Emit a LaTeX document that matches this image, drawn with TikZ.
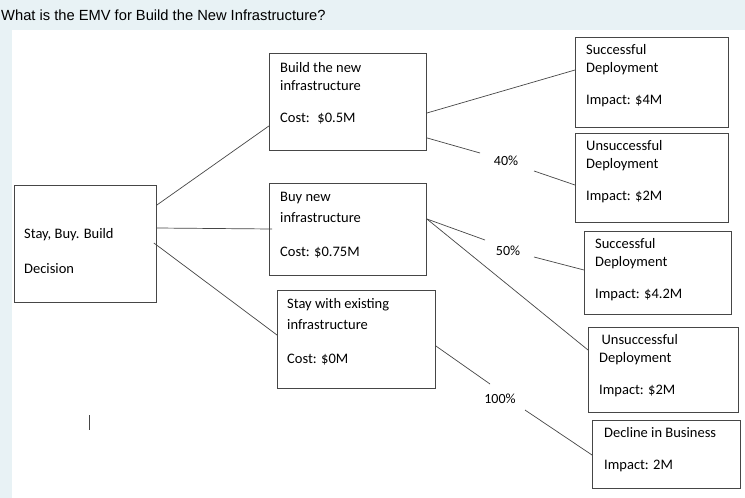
\documentclass[tikz,border=0pt]{standalone}
\usepackage{fontspec}
\setmainfont{Carlito}
\newfontfamily\titlefont{Liberation Sans}
\usepackage{xcolor}
\definecolor{pale}{RGB}{232, 242, 245}
\definecolor{edge}{RGB}{70, 70, 70}
\usetikzlibrary{positioning, calc}

\tikzset{
  box/.style = {draw=edge, line width=0.9pt, rectangle, inner sep=0pt},
  txt/.style = {anchor=north west, align=left, inner sep=0pt, font=\fontsize{14.5}{18}\selectfont},
  pct/.style = {inner sep=0pt, font=\fontsize{14}{16}\selectfont},
  branch/.style = {draw=edge, line width=0.7pt}
}

\begin{document}
\begin{tikzpicture}[x=1pt, y=-1pt]
	\useasboundingbox (0,0) rectangle (745,498);
	\fill [pale] (0,0) rectangle (745,498);
	\fill [white] (12,30) rectangle (745,498);
	\node [anchor=west, inner sep=0pt, font=\titlefont\fontsize{14.7}{16}\selectfont] (title) at (1,15) {What is the EMV for Build the New Infrastructure?};
	
	% decision and options
	\node [box, minimum width=142, minimum height=117, anchor=north west] (dec) at (14,185) {};
	\node [box, minimum width=157, minimum height=97, anchor=north west] (build) at (269,53) {};
	\node [box, minimum width=157, minimum height=92, anchor=north west] (buy) at (269,183) {};
	\node [box, minimum width=158, minimum height=98, anchor=north west] (stay) at (277,290) {};
	
	% outcomes
	\node [box, minimum width=153, minimum height=90, anchor=north west] (s1) at (575,37) {};
	\node [box, minimum width=153, minimum height=89, anchor=north west] (u1) at (575,133) {};
	\node [box, minimum width=147, minimum height=83, anchor=north west] (s2) at (584,231) {};
	\node [box, minimum width=150, minimum height=85, anchor=north west] (u2) at (588,327) {};
	\node [box, minimum width=148, minimum height=68, anchor=north west] (dcl) at (592,420) {};
	
	% texts
	\node [txt, font=\fontsize{14.5}{35}\selectfont] (tdec) at ([shift={(10,43)}]dec.north west) {Stay, Buy. Build\\Decision};
	\node [txt] (tbuild) at ([shift={(11,9)}]build.north west) {Build the new\\infrastructure\\[14pt]Cost:~ \$0.5M};
	\node [txt, font=\fontsize{14.5}{21}\selectfont] (tbuy) at ([shift={(11,9)}]buy.north west) {Buy new\\infrastructure\\[13pt]Cost: \$0.75M};
	\node [txt, font=\fontsize{14.5}{21}\selectfont] (tstay) at ([shift={(10,8)}]stay.north west) {Stay with existing\\infrastructure\\[13pt]Cost: \$0M};
	\node [txt] (ts1) at ([shift={(11,7)}]s1.north west) {Successful\\Deployment\\[14pt]Impact: \$4M};
	\node [txt] (tu1) at ([shift={(11,7)}]u1.north west) {Unsuccessful\\Deployment\\[14pt]Impact: \$2M};
	\node [txt] (ts2) at ([shift={(11,7)}]s2.north west) {Successful\\Deployment\\[14pt]Impact: \$4.2M};
	\node [txt] (tu2) at ([shift={(11,7)}]u2.north west) {\,Unsuccessful\\Deployment\\[14pt]Impact: \$2M};
	\node [txt, font=\fontsize{14.5}{32}\selectfont] (tdcl) at ([shift={(12,7)}]dcl.north west) {Decline in Business\\Impact: 2M};
	
	% probabilities
	\node [pct] (p40) at (506,161) {40\%};
	\node [pct] (p50) at (508,251) {50\%};
	\node [pct] (p100) at (500,399) {100\%};
	\coordinate (p40a) at (480,153);  \coordinate (p40b) at (534,171);
	\coordinate (p50a) at (485,240);  \coordinate (p50b) at (534,257);
	\coordinate (p100a) at (490,384); \coordinate (p100b) at (525,410);
	
	% branches
	\draw [branch] ([shift={(0,20)}]dec.north east) -- ([shift={(0,-25)}]build.south west);
	\draw [branch] ([shift={(0,43)}]dec.north east) -- ([shift={(3,46)}]buy.north west);
	\draw [branch] ([shift={(-3,58)}]dec.north east) -- ([shift={(0,45)}]stay.north west);
	\draw [branch] ([shift={(0,60)}]build.north east) -- ([shift={(0,33)}]s1.north west);
	\draw [branch] ([shift={(0,-13)}]build.south east) -- (p40a);
	\draw [branch] (p40b) -- ([shift={(0,52)}]u1.north west);
	\draw [branch] ([shift={(0,36)}]buy.north east) -- (p50a);
	\draw [branch] (p50b) -- ([shift={(0,39)}]s2.north west);
	\draw [branch] ([shift={(0,36)}]buy.north east) -- ([shift={(0,23)}]u2.north west);
	\draw [branch] ([shift={(0,56)}]stay.north east) -- (p100a);
	\draw [branch] (p100b) -- ([shift={(0,35)}]dcl.north west);
	
	\draw [edge, line width=0.8pt] (89,415) -- (89,430);
\end{tikzpicture}
\end{document}
